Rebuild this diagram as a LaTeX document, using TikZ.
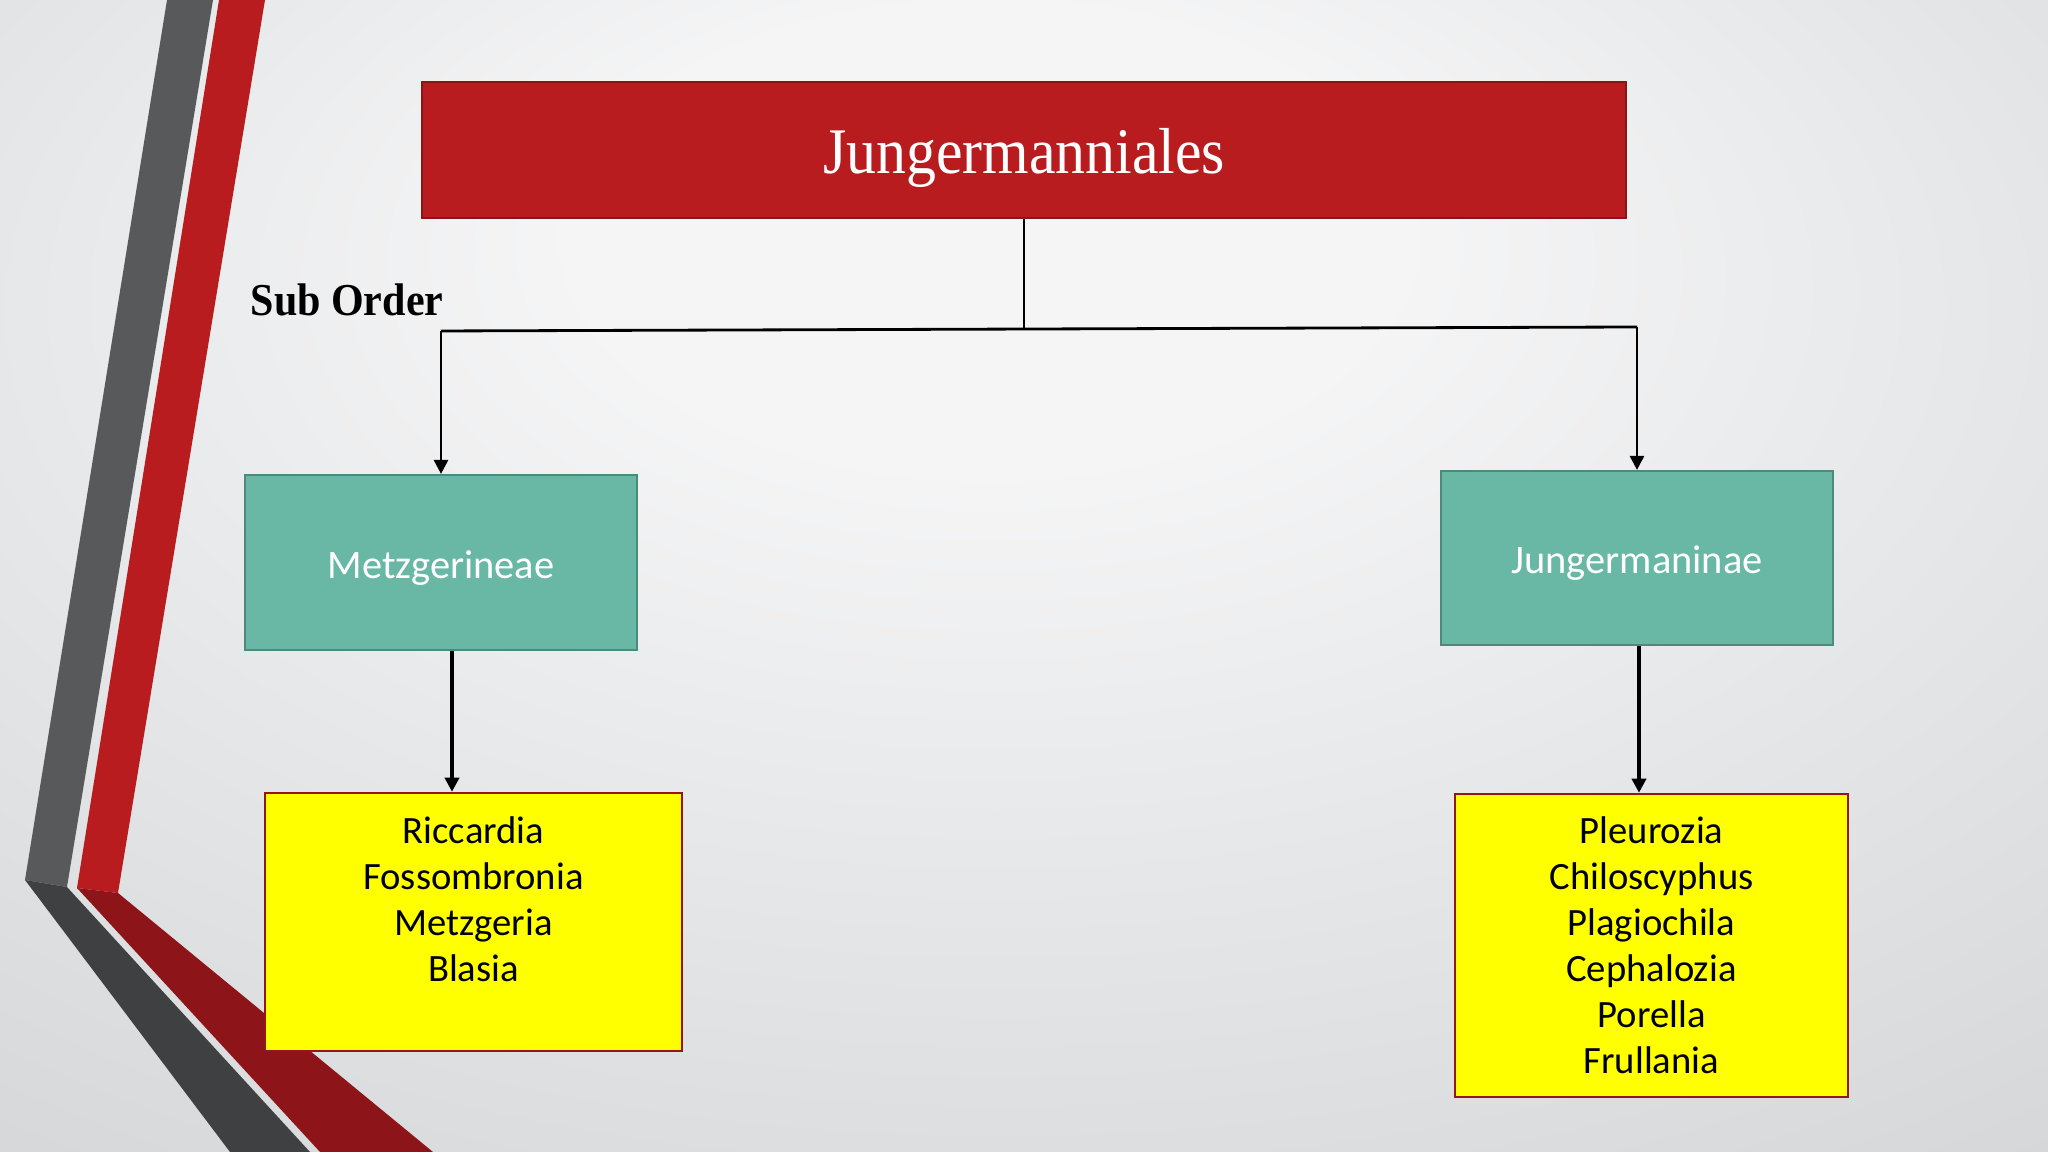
\documentclass[tikz,border=0pt]{standalone}
\usepackage{fontspec}
\setmainfont{Carlito}
\newfontfamily\headfont[FakeStretch=0.92]{Liberation Serif}
\usetikzlibrary{arrows.meta}

\definecolor{bgcentre}{HTML}{F5F5F6}
\definecolor{bgmid}{HTML}{E0E2E3}
\definecolor{bglow}{HTML}{C8CACD}
\definecolor{bgedge}{HTML}{B3B5B8}
\definecolor{stripegrey}{HTML}{58595B}
\definecolor{stripegreydark}{HTML}{3F4042}
\definecolor{stripered}{HTML}{B81C1E}
\definecolor{striperedDark}{HTML}{8D1519}
\definecolor{orderred}{HTML}{B91C1E}
\definecolor{subteal}{HTML}{68B8A5}
\definecolor{genyellow}{HTML}{FFFF00}

\pgfdeclareradialshading{slidebg}{\pgfpoint{-1bp}{17bp}}{%
  color(0bp)=(bgcentre); color(10bp)=(bgcentre);
  color(30bp)=(bgmid); color(55bp)=(bglow); color(75bp)=(bgedge)}

\begin{document}
\begin{tikzpicture}[thick,
    ordbox/.style={draw=orderred!75!black, fill=orderred, text=white,
      minimum width=12.04cm, minimum height=1.36cm, inner sep=0pt,
      font=\headfont\fontsize{18.5}{20}\selectfont},
    subbox/.style={draw=subteal!75!black, fill=subteal, text=white, line width=0.6pt,
      minimum width=3.92cm, minimum height=1.75cm, inner sep=0pt,
      font=\fontsize{11.5}{14}\selectfont},
    genbox/.style={draw=orderred!80!black, fill=genyellow, line width=0.7pt,
      align=center, inner sep=0pt, font=\fontsize{11}{13.1}\selectfont},
    arr/.style={-{Triangle[length=4pt,width=4pt]}}]

    % ==========================================
    % BACKGROUND AND SIDE STRIPES
    % ==========================================

    \useasboundingbox (0,0) rectangle (20.48,11.52);
    \shade[shading=slidebg] (0,0) rectangle (20.48,11.52);

    % Grey stripe
    \fill[stripegrey] (1.67,11.52) -- (2.13,11.52) -- (0.67,2.65) -- (0.25,2.72) -- cycle;
    \fill[stripegreydark] (0.25,2.72) -- (0.67,2.65) -- (3.10,0) -- (2.30,0) -- cycle;

    % Red stripe
    \fill[stripered] (2.19,11.52) -- (2.65,11.52) -- (1.18,2.59) -- (0.77,2.64) -- cycle;
    \fill[striperedDark] (0.77,2.64) -- (1.18,2.59) -- (4.33,0) -- (3.20,0) -- cycle;

    % ==========================================
    % ORDER AND SUB ORDERS
    % ==========================================

    \node[ordbox] (order) at (10.24, 10.02) {\raisebox{-2.3pt}[\height][\depth]{Jungermanniales}};
    \node[font=\headfont\bfseries\fontsize{13}{15}\selectfont] (suborder) at (3.47, 8.52) {Sub Order};

    \coordinate (barM) at (10.24, 8.22); % Junction below the order
    \coordinate (barL) at (4.41, 8.21);
    \coordinate (barR) at (16.37, 8.25);

    \node[subbox] (metz) at (4.41, 5.895) {\raisebox{-1.5pt}[\height][\depth]{Metzgerineae}};
    \node[subbox, minimum height=1.74cm] (jung) at (16.37, 5.94) {\raisebox{-1.5pt}[\height][\depth]{Jungermaninae}};

    % Branching lines
    \draw (order.south) -- (barM);
    \draw (barL) -- (barR);
    \draw[arr] (barL) -- (metz.north);
    \draw[arr] (barR) -- (jung.north);

    % ==========================================
    % GENERA
    % ==========================================

    \node[genbox, minimum width=4.17cm, minimum height=2.58cm] (metzgen) at (4.735, 2.30)
      {Riccardia\\Fossombronia\\Metzgeria\\Blasia\\\mbox{}};
    \node[genbox, minimum width=3.93cm, minimum height=3.03cm] (junggen) at (16.515, 2.065)
      {Pleurozia\\Chiloscyphus\\Plagiochila\\Cephalozia\\Porella\\Frullania};

    \draw[arr, line width=1pt] ([xshift=0.11cm]metz.south) -- ([xshift=0.11cm]metz.south |- metzgen.north);
    \draw[arr, line width=1pt] ([xshift=0.02cm]jung.south) -- ([xshift=0.02cm]jung.south |- junggen.north);

\end{tikzpicture}
\end{document}
